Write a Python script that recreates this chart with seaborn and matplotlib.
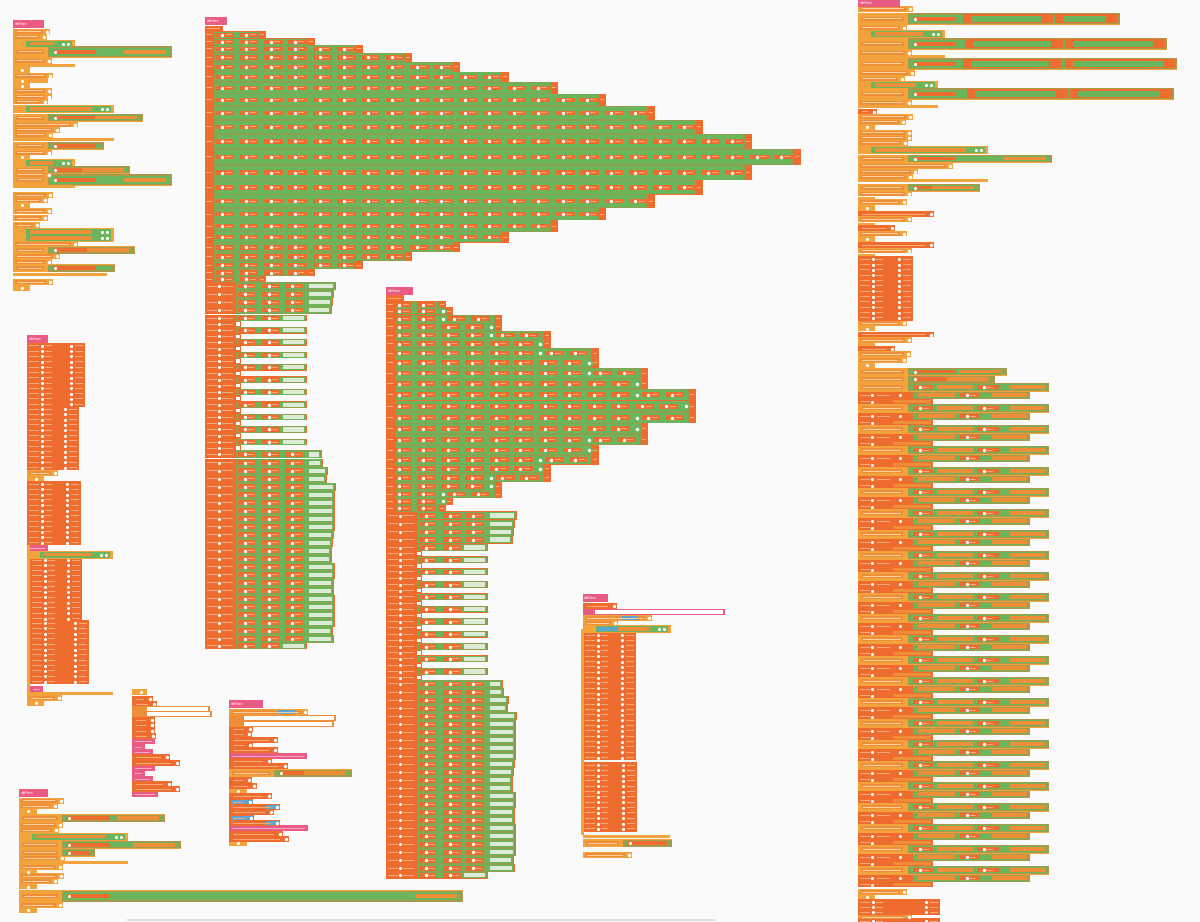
import numpy as np
import pandas as pd
import seaborn as sns
import matplotlib
matplotlib.use('Agg')
import matplotlib.pyplot as plt

ORANGE='#EE6C2D'; AMBER='#F2A33C'; GREEN='#6BB55C'; OLIVE='#8F9F50'; LABEL='#EF8E38'
PINK='#EA5B84'; PALE='#F5A87A'; PALE2='#F8CF9E'; LIT='#DDEBD5'; BG='#FAFAFA'; BLUE='#5BA5D5'

# first pyramid: row centres, how many capsules per row
main_y=[35,42,49,57.5,67,77,88,100,113,127,141.5,157,172.7,187.3,201,214,226,237,247.3,256.7,265,272.7,279]
main_caps=[2,4,6,8,10,12,14,16,18,20,22,24,22,20,18,16,14,12,10,8,6,4,2]

# second pyramid, with the little round knob after some capsule
pyr_y=[304.7,311,318.7,326.7,335,343.7,353,362.7,373,383.7,394.7,406.3,417.7,428.7,439.7,450,459.7,468.7,477.7,486.3,494,501.3,508.3]
pyr_caps=[2,2,4,4,6,6,8,8,10,10,12,12,12,10,10,8,8,6,6,4,4,2,2]
pyr_knob=[0,2,2,4,4,6,6,8,8,10,10,12,10,10,8,8,6,6,4,4,2,2,0]
pyr_end=[446,453,502,502,551,551,599,599,648,648,696,696,696,648,648,599,599,551,551,502,502,453,446]

# the long lists under both pyramids share one shape
low_y=[286,294.3,302.3,310,318,324,330.3,336.3,342.3,348.7,355,361,367.3,373.7,379.7,385.7,392,398.2,404.7,410.7,417,423.3,429.3,435.7,442,448,
       454.3,462.7,470.7,478.7,486.7,494.7,502.7,510.7,518.7,526.7,534.7,542.7,550.7,558.7,566.7,574.7,582.7,590.7,598.7,606.7,614.7,622.7,630.7,638.7,645.7]
low_kind=list('LLLL')+list('TS')*11+list('L')*24+['T']
low_len=[131,129,128,127]+[102,36]*11+[117,118,123,122,131,130,130,130,130,130,129,128,127,127,130,130,129,129,130,130,130,130,128,129]+[102]

# plain stacks: y, right end, kind
tl_y=[24,31.7,37,43.7,52,61,65.7,70,75.7,80.7,85.7,91,96.7,101.7,109,117.7,124.7,130,135,140,146,152.7,157,163,170,175,180,187,195,200,205,211,218,225,232,238,244,250,256,262,268,274,282,288]
tl_end=[44,50,47,75,172,52,75,30,53,48,30,52,52,48,114,143,78,60,53,114,104,52,30,75,130,52,172,75,53,48,30,52,48,40,114,114,78,135,60,52,115,107,53,30]
tl_kind=list('HaaIGacrarraaaIBaaacBarIBaGcaarauaIIaBaaBcar')

sec_y=[339]+list(np.arange(345.7,407,5.33))+list(np.arange(409,469,5.33))+[473,479]+list(np.arange(484,544,5.33))+[548,554.7]+list(np.arange(560,620,5.33))+list(np.arange(623,684,5.33))+[689,693,698,703]
sec_end=[48]+[85]*12+[79]*12+[58,44]+[81]*12+[48,113]+[82]*12+[89]*12+[43,113,62,44]
sec_kind=['H']+['q']*24+['a','r']+['q']*12+['p','I']+['q']*24+['p','c','a','r']
sec_off=[0]*39+[0,0]+[3]*24+[3,0,0,0]

bot_y=[793,800.7,806,811,818,824.7,830,836.7,844.7,852.7,858,862.7,867,871.7,876,881,886.7,896,905,910]
bot_end=[48,64,58,37,165,63,59,128,181,95,65,128,63,37,64,58,37,463,63,37]
bot_kind=list('HaarBaaIBBacaraarGar')

mid_y=[692,699,704,709,714,720,725,731,736,741,747,752,757,763,768,773,779,784,789,794]
mid_end=[147,153,157,210,212,155,155,155,156,155,145,153,170,180,155,145,153,172,180,158]
mid_kind=list('roowwoooopppoopppoop')

fn_y=[704,712,718,724,729,734,740,745,750,756,761,766,773,780,786,791,796,802,807,812,818,823,828,834,839,843]
fn_end=[263,308,336,334,253,252,278,253,278,307,272,288,352,252,257,247,272,253,280,274,254,280,308,283,289,247]
fn_kind=list('HawwooooopooBoorooooooPoor'.replace('P','p'))
# small blue getters inside that stack and the one beside it
blue_y=[712,802,807,818,823,618,629]
blue_l=[278,231,266,231,266,622,597]
blue_r=[295,253,279,253,279,637,618]

fr_y=[598,606,612,618,623,629]+list(np.arange(635,761,5.33))+list(np.arange(765,832,5.33))+[836,843,855]
fr_end=[608,617,725,652,618,671]+[636]*24+[637]*13+[670,672,632]
fr_kind=['H','o','W','a','a','I']+['q']*37+['c','B','a']

rt_y=[3,9,19,28,34,44,53,57,64,73,79,85,94,103,107,112,117,122,127,132.7,138,143,150,158.7,166,171.7,177,181,187.7,193.7,198,202,208,214,219,224,228,233.7,239,245,250.7,255]+\
     list(np.arange(259.3,319,5.33))+[323,328.7,334.7,340,344.7,349,354,360,365,371.7,379]
rt_end=[900,913,1120,907,945,1167,912,945,1177,915,905,938,1174,912,938,877,913,906,875,912,912,908,988,1052,953,918,913,988,980,912,875,907,875,934,912,875,895,907,875,934,912,875]+[913]*12+[907,875,934,912,875,895,911,907,875,1007,995]
rt_kind=list('HaGaIGacGaaIGacoaaraaaIBaaacBacaroacoaroac')+['q']*12+list('aroacoaarBB')
# right-hand repeated triple, one entry per repeat
rep_a_y=[387+21*i for i in range(24)]
tail_y=[892,897,902,907,912,917,921]
tail_end=[907,875,940,940,940,912,940]
tail_kind=list('arqqqaq')
# orange pills sitting inside the wide rows on the right
pill_y=[19,19,44,44,64,64,94,94]
pill_l=[963,1055,965,1065,963,1065,967,1070]
pill_r=[1053,1118,1063,1165,1061,1175,1068,1172]

# everything goes to these record lists, then gets drawn by layer
bars=[]
dots=[]
def bar(layer,y,left,right,h,color):
    if right>left:
        bars.append(dict(layer=layer,y=float(y),left=float(left),w=float(right-left),h=round(float(h),1),color=color))
def dot(y,x,color='white',s=5):
    dots.append(dict(y=float(y),x=float(x),color=color,s=s))

def stack(x0,ys,ends,kinds,off=None,band=50):
    offs=off if off is not None else [0]*len(ys)
    for y,e,k,o in zip(ys,ends,kinds,offs):
        x=x0+o
        if k=='H':
            bar(0,y,x,e,8.5,PINK)
        elif k=='c':
            bar(0,y,x,e,3,AMBER)
        elif k=='r':
            bar(0,y,x,e,5.4,AMBER); dot(y,x+9)
        elif k in 'aou':
            c=ORANGE if k=='o' else AMBER
            bar(0,y,x,e,5.6,c)
            if k!='o':
                bar(1,y,x+2,e-7,4,LABEL)
            bar(4,y,x+4,e-9,1,PALE2 if k!='o' else PALE); dot(y,e-3.5,s=6)
        elif k=='p':
            bar(0,y,x,e,5.6,PINK); bar(4,y,x+3,e-3,1,'#F4A9BE')
        elif k=='q':
            bar(0,y,x,e,5.7,ORANGE)
            dot(y,x+14.5); dot(y,e-14)
            bar(4,y,x+2,x+12,1,PALE); bar(4,y,x+18,x+25,1,PALE); bar(4,y,e-10,e-2,1,PALE)
        elif k=='w':
            bar(0,y,x,e,5.6,LABEL); bar(3,y,x+15,e-2,3.2,'white')
        elif k=='W':
            bar(0,y,x,e,5.6,PINK); bar(3,y,x+12,e-2,3.2,'white')
        elif k=='I':
            bar(0,y,x,e,8,AMBER); bar(2,y,x+13,e-3,6,GREEN)
            bar(3,y,x+17,e-22,3.4,LABEL); dot(y,e-12); dot(y,e-7)
        elif k in 'GB':
            h=12 if k=='G' else 8
            bar(0,y,x,e,h,AMBER); bar(1,y,x+band,e,h-1,'#A99A4B'); bar(2,y,x+band+2,e-3,h-3.5,GREEN)
            bar(1,y,x+3,x+band-4,4,LABEL); bar(4,y,x+5,x+band-6,1,PALE2)
            bar(3,y,x+band+5,min(x+band+48,e-5),3.6,ORANGE)
            if e-x-band>70:
                bar(3,y,e-48,e-6,3.6,LABEL)
            dot(y,x+band+7)

def capsule(y,left,w=18.6,h=4.6):
    bar(3,y,left,left+w,h,ORANGE)
    dot(y,left+6.5,s=6)
    bar(4,y,left+10,left+16,1,PALE)

def pair_x(start,k,step=24):
    return start+48.6*(k//2)+step*(k%2)

def pyramid_row(x0,y,e,h,start,ncaps,knob=0):
    bar(0,y,x0,e,h,ORANGE)
    bar(4,y,x0+1,x0+7,1,PALE)
    bar(1,y,x0+9,e-7,h-0.4,OLIVE)
    bar(2,y,x0+10,e-9,max(h-1.8,0.5),GREEN)
    bar(4,y,e-6,e-2,1,PALE)
    for k in range(ncaps):
        shift=6 if knob and k>=knob else 0
        capsule(y,pair_x(start,k)+shift,h=min(4.6,h-1.2))
    if knob:
        kx=pair_x(start,knob-1)+26
        dot(y,kx,GREEN,26); dot(y,kx,'white',6)

# first pyramid
bar(0,21,205,227,8.5,PINK)
bar(0,29,205,223,6,ORANGE); bar(4,29,207,220,1,PALE)
h1=np.gradient(main_y)
for y,c,h in zip(main_y,main_caps,h1):
    pyramid_row(205,y,266+(c-2)*24.3,max(h,5.5)+0.3,215.8,c)

# second pyramid
bar(0,291,386,413,8.5,PINK)
bar(0,298,386,404,6,ORANGE); bar(4,298,388,401,1,PALE)
h2=np.gradient(pyr_y)
for y,c,e,kn,h in zip(pyr_y,pyr_caps,pyr_end,pyr_knob,h2):
    pyramid_row(386,y,e,max(h,6)+0.3,392.7,c,kn)

# lists below the pyramids
def low_rows(x0,dy):
    for y,k,n in zip(low_y,low_kind,low_len):
        yy=y+dy; e=x0+n
        if k=='S':
            bar(0,yy,x0,x0+36,6.5,ORANGE); bar(3,yy,x0+31,x0+35,3.4,'white')
        else:
            h=8.3 if k=='L' else 6.8
            bar(0,yy,x0,e,h,ORANGE)
            bar(1,yy,x0+31,e-1,h-0.4,OLIVE); bar(2,yy,x0+32,e-2,h-1.8,GREEN)
            capsule(yy,x0+33,17,min(4.6,h-1.4)); capsule(yy,x0+57,18,min(4.6,h-1.4))
            if k=='L':
                capsule(yy,x0+80,18,4.6); bar(3,yy,x0+104,e-3,4.4,LIT)
            else:
                bar(3,yy,x0+78,e-3,4.4,LIT)
        dot(yy,x0+14); bar(4,yy,x0+2,x0+12,1,PALE); bar(4,yy,x0+17,x0+28,1,PALE)
low_rows(205,0)
low_rows(386,229.5)

stack(13,tl_y,tl_end,tl_kind,band=35)
stack(27,sec_y,sec_end,sec_kind,off=sec_off)
bar(0,620,27,30,150,AMBER)
stack(19,bot_y,bot_end,bot_kind,band=43)
stack(132,mid_y,mid_end,mid_kind)
stack(229,fn_y,fn_end,fn_kind,band=45)
stack(583,fr_y,fr_end,fr_kind,band=40)
bar(0,732,581,584,206,AMBER)
stack(858,rt_y,rt_end,rt_kind)
for y,l,r in zip(blue_y,blue_l,blue_r):
    bar(3,y,l,r,4.4,BLUE)
for y,l,r in zip(pill_y,pill_l,pill_r):
    bar(3,y,l,r,9,ORANGE); bar(3.5,y,l+8,r-12,5.5,GREEN)
for y in rep_a_y:
    # first row of the triple
    bar(0,y,858,1049,9,AMBER); bar(1,y,908,1049,8.3,'#A99A4B'); bar(2,y,909,1047,6,GREEN)
    bar(1,y,861,903,4,LABEL); bar(4,y,863,901,1,PALE2); capsule(y,913,20); capsule(y,977,23)
    bar(3,y,937,973,3.8,LABEL); bar(3,y,1010,1045,3.8,LABEL)
    # second row
    y2=y+8
    bar(0,y2,858,1030,7.6,ORANGE); bar(1,y2,913,1030,7,'#A99A4B'); bar(2,y2,914,1028,5,GREEN)
    dot(y2,872); dot(y2,900); bar(4,y2,860,870,1,PALE); bar(4,y2,877,890,1,PALE)
    bar(3,y2,918,955,3.6,LABEL); capsule(y2,960,20,4); bar(3,y2,992,1027,3.6,LABEL)
    # third row
    y3=y+14.5
    bar(0,y3,858,933,5.6,ORANGE); dot(y3,872); bar(4,y3,860,870,1,PALE); bar(3,y3,893,931,3,LABEL)
stack(858,tail_y,tail_end,tail_kind)
bar(0,920,127,715,2,'#DDDDDD')

sns.set_theme(style='white')
plt.rcParams['font.family']=['DejaVu Sans']
fig,ax=plt.subplots(figsize=(12,9.22),dpi=100)
ax.set_position([0,0,1,1])
fig.patch.set_facecolor(BG); ax.set_facecolor(BG)

df=pd.DataFrame(bars)
# a y may hold several bars, keep only one per barplot call
df['n']=df.groupby(['layer','h','color','y']).cumcount()
for (layer,h,color,n),g in df.sort_values('y').groupby(['layer','h','color','n']):
    ys=g['y'].values
    nw=np.diff(ys).min() if len(ys)>1 else 1.0
    sns.barplot(x=g['w'].values,y=ys,orient='y',native_scale=True,color=color,saturation=1,
                width=h/nw,errorbar=None,left=g['left'].values,linewidth=0,ax=ax)

dd=pd.DataFrame(dots)
for (s,color),g in dd.groupby(['s','color']):
    sns.scatterplot(data=g,x='x',y='y',color=color,s=s,marker='o',linewidth=0,legend=False,
                    zorder=5 if color==GREEN else 6,ax=ax)

for x,y,t in [(15,24,'define'),(207,21,'define'),(388,291,'define'),(29,339,'define'),(21,793,'define'),(231,704,'define'),(584,598,'define'),(860,3,'define')]:
    ax.text(x,y,t,color='white',fontsize=3,va='center',zorder=7)

ax.set_xlim(0,1200); ax.set_ylim(922,0)
ax.set_xlabel(''); ax.set_ylabel(''); ax.set_xticks([]); ax.set_yticks([])
sns.despine(ax=ax,left=True,bottom=True)
fig.savefig('out.png',dpi=100,facecolor=BG)
